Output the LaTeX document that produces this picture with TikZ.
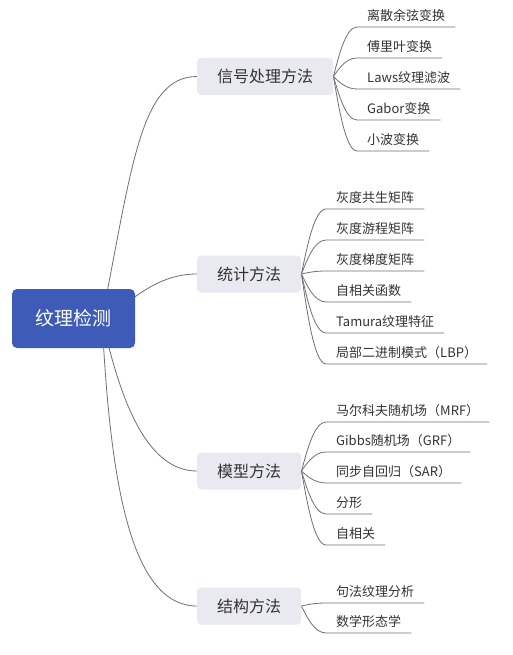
\documentclass[tikz,border=0pt]{standalone}
\usepackage{fontspec}
\setmainfont{Noto Sans CJK SC}
\usetikzlibrary{calc,backgrounds}
\definecolor{rootblue}{HTML}{3E5BB7}
\definecolor{boxgray}{HTML}{E9E9F1}
\definecolor{txt}{HTML}{333333}
\definecolor{wire}{HTML}{707070}
\tikzset{
  rootbox/.style={fill=rootblue, rounded corners=5pt, minimum width=123pt, minimum height=59pt,
    text=white, font=\fontsize{19}{22}\selectfont, inner sep=0pt},
  catbox/.style={fill=boxgray, rounded corners=4pt, inner xsep=20pt, minimum height=37pt,
    text=txt, font=\fontsize{16}{19}\selectfont, anchor=west},
  leaf/.style={anchor=south west, inner xsep=10pt, inner ysep=0pt, text depth=6pt,
    text=txt, font=\fontsize{13}{15}\selectfont},
  wirestyle/.style={draw=wire, line width=0.8pt},
  branch/.style={to path={let \p1=(\tikztostart), \p2=(\tikztotarget) in
    .. controls ({\x1+0.2*(\x2-\x1)},{\y1+0.35*(\y2-\y1)}) and ({\x1+0.5*(\x2-\x1)},{\y2}) .. (\tikztotarget)}}
}
\begin{document}
\begin{tikzpicture}[x=1pt,y=-1pt]
\useasboundingbox (0,0) rectangle (513,655);
% root
\node[rootbox] (root) at (73.5,318.5) {纹理检测};
\coordinate (rc) at (102,318);
% categories
\node[catbox] (p1) at (197,76.5) {信号处理方法};
\node[catbox] (p2) at (197,274) {统计方法};
\node[catbox] (p3) at (197,471) {模型方法};
\node[catbox] (p4) at (197,606) {结构方法};
% leaves: signal
\node[leaf] (a1) at (357,27) {离散余弦变换};
\node[leaf] (a2) at (357,58) {傅里叶变换};
\node[leaf] (a3) at (357,89) {Laws纹理滤波};
\node[leaf] (a4) at (357,120) {Gabor变换};
\node[leaf] (a5) at (357,151) {小波变换};
% leaves: statistics
\node[leaf] (b1) at (326,209) {灰度共生矩阵};
\node[leaf] (b2) at (326,240) {灰度游程矩阵};
\node[leaf] (b3) at (326,271) {灰度梯度矩阵};
\node[leaf] (b4) at (326,302) {自相关函数};
\node[leaf] (b5) at (326,333) {Tamura纹理特征};
\node[leaf] (b6) at (326,364) {局部二进制模式（LBP）};
% leaves: model
\node[leaf] (m1) at (326,422) {马尔科夫随机场（MRF）};
\node[leaf] (m2) at (326,452) {Gibbs随机场（GRF）};
\node[leaf] (m3) at (326,483) {同步自回归（SAR）};
\node[leaf] (m4) at (326,514) {分形};
\node[leaf] (m5) at (326,545) {自相关};
% leaves: structure
\node[leaf] (s1) at (326,603) {句法纹理分析};
\node[leaf] (s2) at (326,633) {数学形态学};
\begin{scope}[on background layer]
  \fill[white] (0,0) rectangle (513,655);
  \begin{scope}[wirestyle]
  \draw (rc) .. controls (132,168) and (140,76.5) .. (p1.west);
  \draw (rc) .. controls (125,310) and (150,274) .. (p2.west);
  \draw (rc) .. controls (122,410) and (150,471) .. (p3.west);
  \draw (rc) .. controls (110,480) and (130,606) .. (p4.west);
  \foreach \c in {a1,a2,a3,a4,a5}
    \draw (p1.east) to[branch] (\c.south west) -- (\c.south east);
  \foreach \c in {b1,b2,b3,b4,b5,b6}
    \draw (p2.east) to[branch] (\c.south west) -- (\c.south east);
  \foreach \c in {m1,m2,m3,m4,m5}
    \draw (p3.east) to[branch] (\c.south west) -- (\c.south east);
  \foreach \c in {s1,s2}
    \draw (p4.east) to[branch] (\c.south west) -- (\c.south east);
  \end{scope}
\end{scope}
\end{tikzpicture}
\end{document}
